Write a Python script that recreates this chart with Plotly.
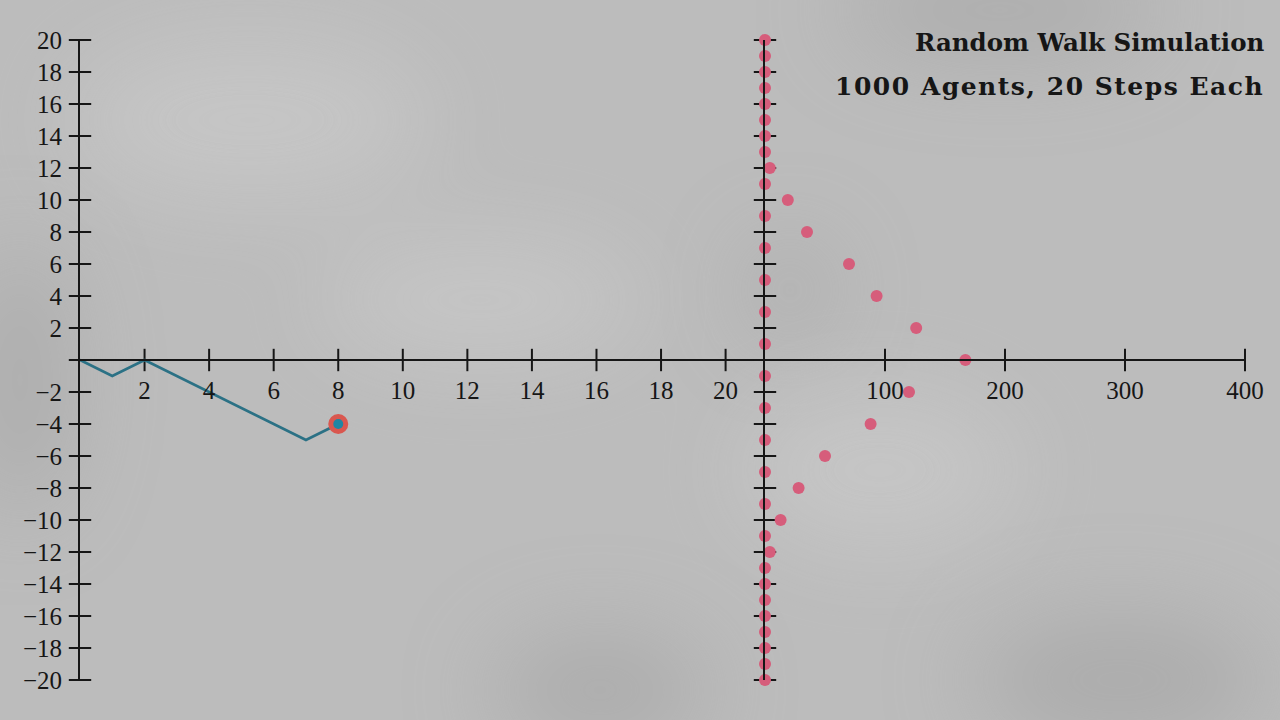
import base64
import plotly.graph_objects as go

# random walk of a single agent (left panel)
walk_steps = [0, 1, 2, 3, 4, 5, 6, 7, 8]
walk_pos = [0, -1, 0, -1, -2, -3, -4, -5, -4]

# final position distribution of all agents (right panel)
positions = list(range(-20, 21))
counts = [0, 0, 0, 0, 0, 0, 0, 0,      # -20 .. -13
          4, 0, 13, 0, 28, 0, 50, 0, 88, 0, 120, 0,   # -12 .. -1
          167,                          # 0
          0, 126, 0, 93, 0, 70, 0, 35, 0, 19, 0, 4,   # 1 .. 12
          0, 0, 0, 0, 0, 0, 0, 0]      # 13 .. 20

# tick values
y_ticks = list(range(-20, 21, 2))
y_labels = [str(v).replace("-", "\u2212") if v != 0 else "" for v in y_ticks]
step_ticks = list(range(2, 21, 2))
count_ticks = [100, 200, 300, 400]

title_1 = "Random Walk Simulation"
title_2 = "1000 Agents, 20 Steps Each"

INK = "#161616"
PINK = "#d65d7b"
TEAL = "#2b7185"

# soft mottled paper background (decoration only)
paper_svg = """<svg xmlns='http://www.w3.org/2000/svg' width='1280' height='720'>
<defs><filter id='b' x='-50%' y='-50%' width='200%' height='200%'>
<feGaussianBlur stdDeviation='45'/></filter></defs>
<rect width='1280' height='720' fill='#bcbcbc'/>
<g filter='url(#b)' fill='#a6a6a6' opacity='0.7'>
<ellipse cx='1000' cy='10' rx='160' ry='50'/>
<ellipse cx='600' cy='690' rx='110' ry='60'/>
<ellipse cx='1120' cy='680' rx='150' ry='70'/>
<ellipse cx='20' cy='380' rx='50' ry='140'/>
<ellipse cx='790' cy='290' rx='40' ry='50'/>
</g>
<g filter='url(#b)' fill='#c8c8c8' opacity='0.8'>
<ellipse cx='250' cy='120' rx='180' ry='80'/>
<ellipse cx='480' cy='300' rx='160' ry='60'/>
<ellipse cx='880' cy='470' rx='140' ry='80'/>
</g>
</svg>"""
paper_uri = "data:image/svg+xml;base64," + base64.b64encode(paper_svg.encode()).decode()

fig = go.Figure()

# cross-style tick marks drawn as markers on the axes
tick_h = dict(symbol="line-ew", size=16, line=dict(color=INK, width=2))
tick_v = dict(symbol="line-ns", size=16, line=dict(color=INK, width=2))
fig.add_trace(go.Scatter(x=[0] * len(y_ticks), y=y_ticks, mode="markers",
                         marker=tick_h, cliponaxis=False, hoverinfo="skip"))
fig.add_trace(go.Scatter(x=step_ticks, y=[0] * len(step_ticks), mode="markers",
                         marker=tick_v, cliponaxis=False, hoverinfo="skip"))
fig.add_trace(go.Scatter(x=[0] * len(y_ticks), y=y_ticks, mode="markers",
                         marker=tick_h, cliponaxis=False, hoverinfo="skip",
                         xaxis="x2", yaxis="y2"))
fig.add_trace(go.Scatter(x=count_ticks, y=[0] * len(count_ticks), mode="markers",
                         marker=tick_v, cliponaxis=False, hoverinfo="skip",
                         xaxis="x2", yaxis="y2"))

# the walk
fig.add_trace(go.Scatter(x=walk_steps, y=walk_pos, mode="lines",
                         line=dict(color=TEAL, width=2.8), cliponaxis=False))
fig.add_trace(go.Scatter(x=walk_steps[-1:], y=walk_pos[-1:], mode="markers",
                         marker=dict(size=20, color="#d9574f"), cliponaxis=False))
fig.add_trace(go.Scatter(x=walk_steps[-1:], y=walk_pos[-1:], mode="markers",
                         marker=dict(size=10, color="#1f86a3"), cliponaxis=False))

# distribution dots
fig.add_trace(go.Scatter(x=counts, y=positions, mode="markers",
                         marker=dict(size=12, color=PINK), cliponaxis=False,
                         xaxis="x2", yaxis="y2"))

tick_font = dict(family="Liberation Serif", size=25, color=INK)

fig.update_layout(
    width=1280, height=720,
    margin=dict(l=80, r=35, t=40, b=40),
    paper_bgcolor="#bcbcbc", plot_bgcolor="rgba(0,0,0,0)",
    showlegend=False,
    images=[dict(source=paper_uri, xref="paper", yref="paper",
                 x=-80 / 1165, y=1 + 40 / 640, sizex=1280 / 1165, sizey=720 / 640,
                 sizing="stretch", xanchor="left", yanchor="top", layer="below")],
    xaxis=dict(domain=[0, 680 / 1165], range=[0, 680 / 32.28],
               anchor="free", position=0.5, showline=True, linecolor=INK, linewidth=2,
               showgrid=False, zeroline=False, ticks="",
               tickvals=step_ticks, ticktext=[str(v) for v in step_ticks],
               tickfont=tick_font, ticklabelstandoff=8),
    yaxis=dict(domain=[0, 1], range=[-20, 20], anchor="x",
               showline=True, linecolor=INK, linewidth=2,
               showgrid=False, zeroline=False, ticks="",
               tickvals=y_ticks, ticktext=y_labels,
               tickfont=tick_font, ticklabelstandoff=11),
    xaxis2=dict(domain=[685 / 1165, 1], range=[0, 400],
                anchor="free", position=0.5, showline=True, linecolor=INK, linewidth=2,
                showgrid=False, zeroline=False, ticks="",
                tickvals=count_ticks, ticktext=[str(v) for v in count_ticks],
                tickfont=tick_font, ticklabelstandoff=8),
    yaxis2=dict(domain=[0, 1], range=[-20, 20], anchor="x2",
                showline=True, linecolor=INK, linewidth=2,
                showgrid=False, zeroline=False, ticks="", showticklabels=False),
)

fig.add_annotation(text="<b>" + title_1 + "</b>", xref="paper", yref="paper",
                   x=1 + 21 / 1165, y=(680 - 42) / 640, xanchor="right", yanchor="middle",
                   showarrow=False,
                   font=dict(family="DejaVu Serif", size=24.5, color=INK))
fig.add_annotation(text="<b><span style='letter-spacing:1.5px'>" + title_2 + "</span></b>",
                   xref="paper", yref="paper",
                   x=1 + 21 / 1165, y=(680 - 86) / 640, xanchor="right", yanchor="middle",
                   showarrow=False,
                   font=dict(family="DejaVu Serif", size=25, color=INK))

fig.write_html("out.html", config={"displayModeBar": False},
               post_script="document.body.style.margin='0';")
